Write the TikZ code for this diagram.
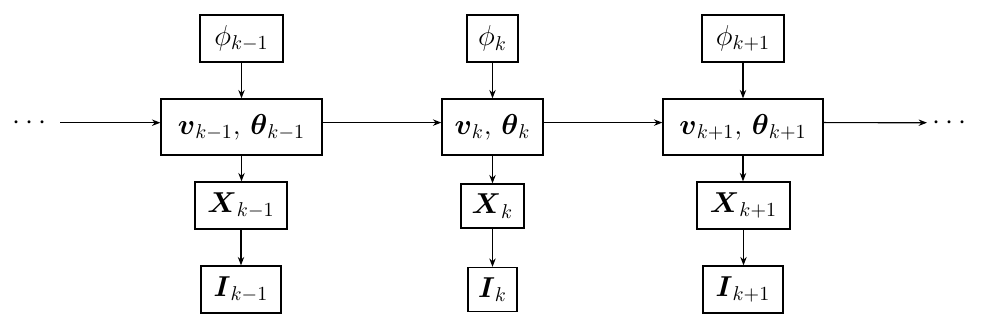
\documentclass[tikz,border=0pt]{standalone}
\usepackage{amsmath}
\usetikzlibrary{arrows.meta}
\begin{document}
\begin{tikzpicture}[x=0.5pt,y=-0.5pt,
  lbl/.style={font=\fontsize{14.3}{17}\selectfont},
  box/.style={draw,line width=0.65pt,inner sep=0pt,lbl},
  arr/.style={-{Stealth[length=4.2pt,width=3.2pt]},line width=0.6pt}]
\useasboundingbox (0,0) rectangle (985,331);
% column 1
\node[box,minimum width=41.5pt,minimum height=23.5pt] (p1) at (241.5,38.5) {$\phi_{k-1}$};
\node[box,minimum width=80.5pt,minimum height=28pt] (m1) at (241.5,127) {$\boldsymbol{v}_{k-1},\,\boldsymbol{\theta}_{k-1}$};
\node[box,minimum width=46pt,minimum height=23.5pt] (x1) at (241,205.5) {$\boldsymbol{X}_{k-1}$};
\node[box,minimum width=40pt,minimum height=23.5pt] (i1) at (241,289.5) {$\boldsymbol{I}_{k-1}$};
% column 2
\node[box,minimum width=25.5pt,minimum height=23.5pt] (p2) at (492.5,38.5) {$\phi_{k}$};
\node[box,minimum width=50.5pt,minimum height=28pt] (m2) at (492.5,127) {$\boldsymbol{v}_{k},\,\boldsymbol{\theta}_{k}$};
\node[box,minimum width=31.5pt,minimum height=22pt] (x2) at (492.5,206) {$\boldsymbol{X}_{k}$};
\node[box,minimum width=24.5pt,minimum height=22pt] (i2) at (492.5,289.5) {$\boldsymbol{I}_{k}$};
% column 3
\node[box,minimum width=41pt,minimum height=23.5pt] (p3) at (743,38.5) {$\phi_{k+1}$};
\node[box,minimum width=80pt,minimum height=28pt] (m3) at (743,127) {$\boldsymbol{v}_{k+1},\,\boldsymbol{\theta}_{k+1}$};
\node[box,minimum width=46.5pt,minimum height=23.5pt] (x3) at (743.5,205.5) {$\boldsymbol{X}_{k+1}$};
\node[box,minimum width=40pt,minimum height=23.5pt] (i3) at (743,289.5) {$\boldsymbol{I}_{k+1}$};
% ends
\node[lbl,inner sep=0pt] (dl) at (32,122.7) {$\cdots$};
\node[lbl,inner sep=0pt] (dr) at (952,122.7) {$\cdots$};
\coordinate (al) at (60,122.7);
\coordinate (ar) at (927,122.7);
% horizontal arrows
\draw[arr] (al) -- (al -| m1.west);
\draw[arr] ([yshift=2.2pt]m1.east) -- ([yshift=2.2pt]m2.west);
\draw[arr] ([yshift=2.2pt]m2.east) -- ([yshift=2.2pt]m3.west);
\draw[arr] ([yshift=2.2pt]m3.east) -- (ar);
% vertical arrows
\foreach \c in {1,2,3}{
  \draw[arr] (p\c.south) -- (p\c.south |- m\c.north);
  \draw[arr] (m\c.south) -- (m\c.south |- x\c.north);
  \draw[arr] (x\c.south) -- (x\c.south |- i\c.north);
}
\end{tikzpicture}
\end{document}
